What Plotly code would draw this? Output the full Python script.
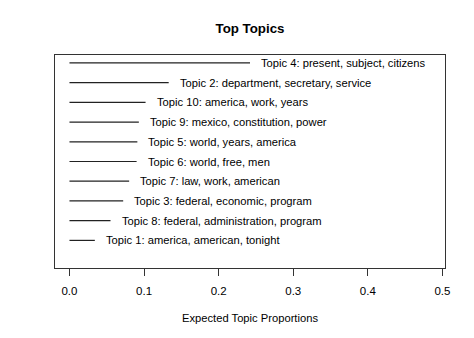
import plotly.graph_objects as go

labels = [
    "Topic 1: america, american, tonight",
    "Topic 8: federal, administration, program",
    "Topic 3: federal, economic, program",
    "Topic 7: law, work, american",
    "Topic 6: world, free, men",
    "Topic 5: world, years, america",
    "Topic 9: mexico, constitution, power",
    "Topic 10: america, work, years",
    "Topic 2: department, secretary, service",
    "Topic 4: present, subject, citizens",
]
proportions = [0.034, 0.055, 0.072, 0.080, 0.090, 0.091, 0.093, 0.102, 0.133, 0.242]
positions = list(range(1, len(labels) + 1))

FONT = "Liberation Sans, Arial, Helvetica, sans-serif"

xs, ys = [], []
for p, y in zip(proportions, positions):
    xs += [0, p, None]
    ys += [y, y, None]

fig = go.Figure()
fig.add_trace(go.Scatter(x=xs, y=ys, mode="lines",
                         line=dict(color="#222222", width=1.2),
                         hoverinfo="skip", showlegend=False))

for lab, p, y in zip(labels, proportions, positions):
    fig.add_annotation(x=p, y=y, text=lab, xanchor="left", yanchor="middle",
                       xshift=9, showarrow=False,
                       font=dict(family=FONT, size=11.2, color="black"))

fig.add_annotation(x=0.5, y=-0.235, xref="paper", yref="paper",
                   text="Expected Topic Proportions", showarrow=False,
                   xanchor="center", yanchor="middle",
                   font=dict(family=FONT, size=11.2, color="black"))

fig.update_layout(
    width=474, height=338,
    margin=dict(l=55, r=29, t=55, b=70),
    paper_bgcolor="white", plot_bgcolor="white",
    title=dict(text="<b>Top Topics</b>", x=0.5, xref="paper", xanchor="center",
               y=1 - 28 / 338, yanchor="middle",
               font=dict(family=FONT, size=13.3, color="black")),
    xaxis=dict(range=[-0.0194, 0.5034], tickvals=[0, 0.1, 0.2, 0.3, 0.4, 0.5],
               tickformat=".1f", ticks="outside", ticklen=7, tickcolor="#333333",
               ticklabelstandoff=5,
               showline=True, linecolor="#333333", linewidth=1, mirror=True,
               showgrid=False, zeroline=False,
               tickfont=dict(family=FONT, size=11.5, color="black")),
    yaxis=dict(range=[-0.4, 10.4], showticklabels=False, ticks="",
               showline=True, linecolor="#333333", linewidth=1, mirror=True,
               showgrid=False, zeroline=False),
)

fig.write_html("out.html")
